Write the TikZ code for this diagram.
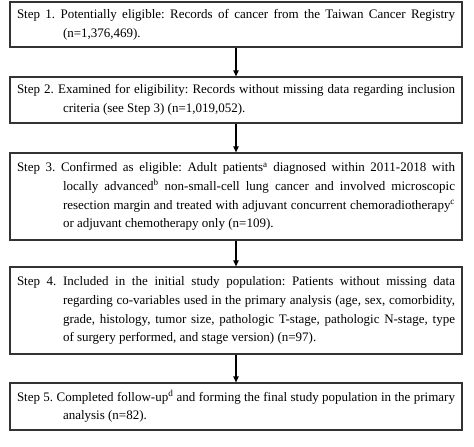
\documentclass[tikz,border=0pt]{standalone}
\usepackage{fontspec}
\setmainfont{Liberation Serif}
\usetikzlibrary{arrows.meta}
\newcommand{\steptext}[1]{\frenchspacing\hyphenpenalty=10000\exhyphenpenalty=10000\hangindent=46pt\hangafter=1\relax #1\par}
\begin{document}
\begin{tikzpicture}[x=1pt,y=-1pt,
  stepbox/.style={draw=black!80, line width=1.3pt, minimum width=452pt, text width=438pt,
    inner xsep=7pt, inner ysep=0pt, align=justify, anchor=center,
    font=\fontsize{13}{18.8}\selectfont},
  flow/.style={-{Triangle[length=6pt,width=5.5pt]}, line width=1.2pt, black}]
\useasboundingbox (0,0) rectangle (474,447);
\node[stepbox, minimum height=45pt] (s1) at (236,24.5) {\steptext{Step 1. Potentially eligible: Records of cancer from the Taiwan Cancer Registry\linebreak (n=1,376,469).}};
\node[stepbox, minimum height=46pt] (s2) at (236,100) {\steptext{Step 2. Examined for eligibility: Records without missing data regarding inclusion\linebreak criteria (see Step 3) (n=1,019,052).}};
\node[stepbox, minimum height=87pt] (s3) at (236,196.5) {\steptext{Step 3. Confirmed as eligible: Adult patients\textsuperscript{a} diagnosed within 2011-2018 with\linebreak locally advanced\textsuperscript{b} non-small-cell lung cancer and involved microscopic\linebreak resection margin and treated with adjuvant concurrent chemoradiotherapy\textsuperscript{c}\linebreak or adjuvant chemotherapy only (n=109).}};
\node[stepbox, minimum height=87pt] (s4) at (236,310.5) {\steptext{Step 4. Included in the initial study population: Patients without missing data\linebreak regarding co-variables used in the primary analysis (age, sex, comorbidity,\linebreak grade, histology, tumor size, pathologic T-stage, pathologic N-stage, type\linebreak of surgery performed, and stage version) (n=97).}};
\node[stepbox, minimum height=47pt] (s5) at (236,406.5) {\steptext{Step 5. Completed follow-up\textsuperscript{d} and forming the final study population in the primary\linebreak analysis (n=82).}};
\draw[flow] (s1) -- (s2);
\draw[flow] (s2) -- (s3);
\draw[flow] (s3) -- (s4);
\draw[flow] (s4) -- (s5);
\end{tikzpicture}
\end{document}
